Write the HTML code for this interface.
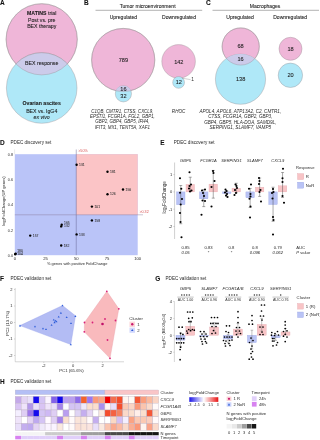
<!DOCTYPE html>
<html><head><meta charset="utf-8"><style>
html,body{margin:0;padding:0;background:#fff;width:320px;height:440px;overflow:hidden}
svg{display:block;font-family:"Liberation Sans", sans-serif}

svg{will-change:transform}
</style></head><body>
<svg width="320" height="440" viewBox="0 0 320 440">
<text x="0" y="4.78" font-size="6.5" text-anchor="start" font-weight="bold" font-style="normal" fill="#111" stroke="#111" stroke-width="0.08" >A</text>
<circle cx="41.7" cy="39.3" r="35.6" fill="#efb6d8" stroke="#9a8f95" stroke-width="0.4"/>
<circle cx="41.7" cy="88" r="35.3" fill="#afe8f8" stroke="#9a8f95" stroke-width="0.4"/>
<clipPath id="clipA"><circle cx="41.7" cy="39.3" r="35.6"/></clipPath>
<circle cx="41.7" cy="88" r="35.3" fill="#cccbea" stroke="#9a8f95" stroke-width="0.4" clip-path="url(#clipA)"/>
<circle cx="41.7" cy="39.3" r="35.6" fill="none" stroke="#9a8f95" stroke-width="0.4"/>
<text x="41.7" y="14.62" font-size="5.2" text-anchor="middle" font-weight="normal" font-style="normal" fill="#151515" stroke="#2a2a2a" stroke-width="0.08" ><tspan font-weight="bold">MATINS</tspan> trial</text>
<text x="41.7" y="22.22" font-size="5.2" text-anchor="middle" font-weight="normal" font-style="normal" fill="#151515" stroke="#2a2a2a" stroke-width="0.08" >Post vs. pre</text>
<text x="41.7" y="28.22" font-size="5.2" text-anchor="middle" font-weight="normal" font-style="normal" fill="#151515" stroke="#2a2a2a" stroke-width="0.08" >BEX therapy</text>
<text x="41.7" y="64.72" font-size="5.2" text-anchor="middle" font-weight="normal" font-style="normal" fill="#151515" stroke="#2a2a2a" stroke-width="0.08" >BEX response</text>
<text x="41.7" y="104.62" font-size="5.2" text-anchor="middle" font-weight="bold" font-style="normal" fill="#151515" stroke="#2a2a2a" stroke-width="0.08" >Ovarian ascites</text>
<text x="41.7" y="112.62" font-size="5.2" text-anchor="middle" font-weight="normal" font-style="normal" fill="#151515" stroke="#2a2a2a" stroke-width="0.08" >BEX vs. IgG4</text>
<text x="41.7" y="118.62" font-size="5.2" text-anchor="middle" font-weight="normal" font-style="italic" fill="#151515" stroke="#2a2a2a" stroke-width="0.08" >ex vivo</text>
<text x="84" y="4.78" font-size="6.5" text-anchor="start" font-weight="bold" font-style="normal" fill="#111" stroke="#111" stroke-width="0.08" >B</text>
<line x1="95.5" y1="10.3" x2="202.2" y2="10.3" stroke="#555" stroke-width="0.45"/>
<text x="147.6" y="7.87" font-size="5.05" text-anchor="middle" font-weight="normal" font-style="normal" fill="#151515" stroke="#2a2a2a" stroke-width="0.08" >Tumor microenvironment</text>
<text x="123.4" y="19.07" font-size="5.05" text-anchor="middle" font-weight="normal" font-style="normal" fill="#151515" stroke="#2a2a2a" stroke-width="0.08" >Upregulated</text>
<text x="179" y="19.07" font-size="5.05" text-anchor="middle" font-weight="normal" font-style="normal" fill="#151515" stroke="#2a2a2a" stroke-width="0.08" >Downregulated</text>
<circle cx="123.2" cy="60" r="31.6" fill="#efb6d8" stroke="#9a8f95" stroke-width="0.4"/>
<clipPath id="clipB"><circle cx="123.2" cy="60" r="31.6"/></clipPath>
<circle cx="123.4" cy="93.8" r="8.1" fill="#afe8f8" stroke="#9a8f95" stroke-width="0.4"/>
<circle cx="123.4" cy="93.8" r="8.1" fill="#cccbea" clip-path="url(#clipB)"/>
<circle cx="123.2" cy="60" r="31.6" fill="none" stroke="#9a8f95" stroke-width="0.4"/>
<text x="123.4" y="62.26" font-size="5.6" text-anchor="middle" font-weight="normal" font-style="normal" fill="#151515" stroke="#2a2a2a" stroke-width="0.08" >789</text>
<text x="123.4" y="91.16" font-size="5.6" text-anchor="middle" font-weight="normal" font-style="normal" fill="#151515" stroke="#2a2a2a" stroke-width="0.08" >16</text>
<text x="123.4" y="98.16" font-size="5.6" text-anchor="middle" font-weight="normal" font-style="normal" fill="#151515" stroke="#2a2a2a" stroke-width="0.08" >32</text>
<circle cx="178.6" cy="61.4" r="16.8" fill="#efb6d8" stroke="#9a8f95" stroke-width="0.4"/>
<circle cx="178.6" cy="82.4" r="5.9" fill="#afe8f8" stroke="#9a8f95" stroke-width="0.4"/>
<text x="178.8" y="63.76" font-size="5.6" text-anchor="middle" font-weight="normal" font-style="normal" fill="#151515" stroke="#2a2a2a" stroke-width="0.08" >142</text>
<text x="178.8" y="84.36" font-size="5.6" text-anchor="middle" font-weight="normal" font-style="normal" fill="#151515" stroke="#2a2a2a" stroke-width="0.08" >12</text>
<line x1="182" y1="78.2" x2="190.5" y2="79.6" stroke="#777" stroke-width="0.35"/>
<text x="192.7" y="81.38" font-size="4.8" text-anchor="middle" font-weight="normal" font-style="normal" fill="#2a2a2a"  >1</text>
<text x="122.4" y="112.86" font-size="4.45" text-anchor="middle" font-weight="normal" font-style="italic" fill="#2a2a2a"  >C1QB, CMTR1, CTSS, CXCL9,</text>
<text x="122.4" y="118.16" font-size="4.45" text-anchor="middle" font-weight="normal" font-style="italic" fill="#2a2a2a"  >EPSTI1, FCGR1A, FGL2, GBP1,</text>
<text x="122.4" y="123.46" font-size="4.45" text-anchor="middle" font-weight="normal" font-style="italic" fill="#2a2a2a"  >GBP2, GBP4, GBP5, IFI44,</text>
<text x="122.4" y="128.76" font-size="4.45" text-anchor="middle" font-weight="normal" font-style="italic" fill="#2a2a2a"  >IFIT3, MX1, TENT5A, XAF1</text>
<text x="178.6" y="112.91" font-size="4.6" text-anchor="middle" font-weight="normal" font-style="italic" fill="#2a2a2a"  >RHOC</text>
<text x="206" y="4.78" font-size="6.5" text-anchor="start" font-weight="bold" font-style="normal" fill="#111" stroke="#111" stroke-width="0.08" >C</text>
<line x1="212.5" y1="10.3" x2="319" y2="10.3" stroke="#555" stroke-width="0.45"/>
<text x="265.0" y="7.87" font-size="5.05" text-anchor="middle" font-weight="normal" font-style="normal" fill="#151515" stroke="#2a2a2a" stroke-width="0.08" >Macrophages</text>
<text x="240.0" y="19.07" font-size="5.05" text-anchor="middle" font-weight="normal" font-style="normal" fill="#151515" stroke="#2a2a2a" stroke-width="0.08" >Upregulated</text>
<text x="290.2" y="19.07" font-size="5.05" text-anchor="middle" font-weight="normal" font-style="normal" fill="#151515" stroke="#2a2a2a" stroke-width="0.08" >Downregulated</text>
<circle cx="240.7" cy="46.5" r="18.6" fill="#efb6d8" stroke="#9a8f95" stroke-width="0.4"/>
<circle cx="240.5" cy="79.2" r="25.1" fill="#afe8f8" stroke="#9a8f95" stroke-width="0.4"/>
<clipPath id="clipC"><circle cx="240.7" cy="46.5" r="18.6"/></clipPath>
<circle cx="240.5" cy="79.2" r="25.1" fill="#cccbea" clip-path="url(#clipC)"/>
<circle cx="240.7" cy="46.5" r="18.6" fill="none" stroke="#9a8f95" stroke-width="0.4"/>
<text x="240.6" y="47.66" font-size="5.6" text-anchor="middle" font-weight="normal" font-style="normal" fill="#151515" stroke="#2a2a2a" stroke-width="0.08" >68</text>
<text x="240.6" y="61.36" font-size="5.6" text-anchor="middle" font-weight="normal" font-style="normal" fill="#151515" stroke="#2a2a2a" stroke-width="0.08" >16</text>
<text x="240.6" y="81.46" font-size="5.6" text-anchor="middle" font-weight="normal" font-style="normal" fill="#151515" stroke="#2a2a2a" stroke-width="0.08" >138</text>
<circle cx="290.5" cy="48.8" r="11.5" fill="#efb6d8" stroke="#9a8f95" stroke-width="0.4"/>
<circle cx="290.4" cy="75.3" r="12.2" fill="#afe8f8" stroke="#9a8f95" stroke-width="0.4"/>
<text x="290.5" y="50.76" font-size="5.6" text-anchor="middle" font-weight="normal" font-style="normal" fill="#151515" stroke="#2a2a2a" stroke-width="0.08" >18</text>
<text x="290.5" y="77.36" font-size="5.6" text-anchor="middle" font-weight="normal" font-style="normal" fill="#151515" stroke="#2a2a2a" stroke-width="0.08" >20</text>
<text x="240.3" y="112.91" font-size="4.6" text-anchor="middle" font-weight="normal" font-style="italic" fill="#2a2a2a"  >APOL4, APOL6, ATP13A2, C2, CMTR1,</text>
<text x="240.3" y="118.21" font-size="4.6" text-anchor="middle" font-weight="normal" font-style="italic" fill="#2a2a2a"  >CTSS, FCGR1A, GBP2, GBP3,</text>
<text x="240.3" y="123.51" font-size="4.6" text-anchor="middle" font-weight="normal" font-style="italic" fill="#2a2a2a"  >GBP4, GBP5, HLA-DOA, SAMD9L,</text>
<text x="240.3" y="128.81" font-size="4.6" text-anchor="middle" font-weight="normal" font-style="italic" fill="#2a2a2a"  >SERPING1, SLAMF7, VAMP5</text>
<text x="0" y="144.78" font-size="6.5" text-anchor="start" font-weight="bold" font-style="normal" fill="#111" stroke="#111" stroke-width="0.08" >D</text>
<text x="10.5" y="144.41" font-size="4.6" text-anchor="start" font-weight="normal" font-style="normal" fill="#2a2a2a"  >PDEC discovery set</text>
<line x1="14.6" y1="149.4" x2="14.6" y2="154.2" stroke="#ccc" stroke-width="0.4"/>
<rect x="14.8" y="154.2" width="122.89999999999999" height="101.0" fill="#bac4f8"/>
<rect x="76.25" y="154.2" width="61.44999999999999" height="60.599999999999994" fill="#fbc4c6"/>
<line x1="76.25" y1="149.5" x2="76.25" y2="255.2" stroke="#5a5a8a" stroke-width="0.45"/>
<line x1="14.8" y1="214.79999999999998" x2="143" y2="214.79999999999998" stroke="#8a7a9a" stroke-width="0.45"/>
<text x="78.2" y="152.29" font-size="3.7" text-anchor="start" font-weight="normal" font-style="normal" fill="#d85050"  >&gt;50%</text>
<text x="139.4" y="212.59" font-size="3.7" text-anchor="start" font-weight="normal" font-style="normal" fill="#d85050"  >&gt;0.32</text>
<text x="13.0" y="256.80" font-size="3.7" text-anchor="end" font-weight="normal" font-style="normal" fill="#2a2a2a"  >0.0</text>
<text x="13.0" y="231.54" font-size="3.7" text-anchor="end" font-weight="normal" font-style="normal" fill="#2a2a2a"  >0.2</text>
<text x="13.0" y="206.29" font-size="3.7" text-anchor="end" font-weight="normal" font-style="normal" fill="#2a2a2a"  >0.4</text>
<text x="13.0" y="181.04" font-size="3.7" text-anchor="end" font-weight="normal" font-style="normal" fill="#2a2a2a"  >0.6</text>
<text x="13.0" y="155.79" font-size="3.7" text-anchor="end" font-weight="normal" font-style="normal" fill="#2a2a2a"  >0.8</text>
<text x="14.8" y="260.17" font-size="4.2" text-anchor="middle" font-weight="normal" font-style="normal" fill="#2a2a2a"  >0</text>
<text x="45.525000000000006" y="260.17" font-size="4.2" text-anchor="middle" font-weight="normal" font-style="normal" fill="#2a2a2a"  >25</text>
<text x="76.25" y="260.17" font-size="4.2" text-anchor="middle" font-weight="normal" font-style="normal" fill="#2a2a2a"  >50</text>
<text x="106.975" y="260.17" font-size="4.2" text-anchor="middle" font-weight="normal" font-style="normal" fill="#2a2a2a"  >75</text>
<text x="137.70000000000002" y="260.17" font-size="4.2" text-anchor="middle" font-weight="normal" font-style="normal" fill="#2a2a2a"  >100</text>
<text x="77.2" y="265.28" font-size="3.95" text-anchor="middle" font-weight="normal" font-style="normal" fill="#2a2a2a"  >% genes with positive FoldChange</text>
<text transform="translate(3.2,201.2) rotate(-90)" font-size="4.05" text-anchor="middle" y="1.42" fill="#2a2a2a">log<tspan font-size="3" dy="1">2</tspan><tspan dy="-1">FoldChange(UP genes)</tspan></text>
<circle cx="76.6" cy="164.8" r="1.2" fill="#000"/>
<circle cx="107.5" cy="171.8" r="1.2" fill="#000"/>
<circle cx="123.0" cy="189.5" r="1.2" fill="#000"/>
<circle cx="107.5" cy="194.3" r="1.2" fill="#000"/>
<circle cx="91.9" cy="206.6" r="1.2" fill="#000"/>
<circle cx="91.9" cy="220.4" r="1.2" fill="#000"/>
<circle cx="76.6" cy="234.4" r="1.2" fill="#000"/>
<circle cx="61.2" cy="245.5" r="1.2" fill="#000"/>
<circle cx="30.2" cy="235.6" r="1.2" fill="#000"/>
<circle cx="61.7" cy="224.8" r="1.2" fill="#000"/>
<circle cx="61.2" cy="226.4" r="1.2" fill="#000"/>
<circle cx="15.6" cy="253.6" r="1.2" fill="#000"/>
<circle cx="15.2" cy="254.2" r="1.2" fill="#000"/>
<text x="79.1" y="165.99" font-size="3.4" text-anchor="start" font-weight="normal" font-style="normal" fill="#333" stroke="#333" stroke-width="0.05" >131</text>
<text x="110" y="172.99" font-size="3.4" text-anchor="start" font-weight="normal" font-style="normal" fill="#333" stroke="#333" stroke-width="0.05" >181</text>
<text x="125.5" y="190.69" font-size="3.4" text-anchor="start" font-weight="normal" font-style="normal" fill="#333" stroke="#333" stroke-width="0.05" >156</text>
<text x="110" y="195.49" font-size="3.4" text-anchor="start" font-weight="normal" font-style="normal" fill="#333" stroke="#333" stroke-width="0.05" >126</text>
<text x="94.4" y="207.79" font-size="3.4" text-anchor="start" font-weight="normal" font-style="normal" fill="#333" stroke="#333" stroke-width="0.05" >101</text>
<text x="94.4" y="221.59" font-size="3.4" text-anchor="start" font-weight="normal" font-style="normal" fill="#333" stroke="#333" stroke-width="0.05" >158</text>
<text x="79.1" y="235.59" font-size="3.4" text-anchor="start" font-weight="normal" font-style="normal" fill="#333" stroke="#333" stroke-width="0.05" >133</text>
<text x="63.7" y="246.69" font-size="3.4" text-anchor="start" font-weight="normal" font-style="normal" fill="#333" stroke="#333" stroke-width="0.05" >182</text>
<text x="32.8" y="236.79" font-size="3.4" text-anchor="start" font-weight="normal" font-style="normal" fill="#333" stroke="#333" stroke-width="0.05" >157</text>
<text x="64.0" y="224.09" font-size="3.4" text-anchor="start" font-weight="normal" font-style="normal" fill="#333" stroke="#333" stroke-width="0.05" >165</text>
<text x="64.0" y="227.49" font-size="3.4" text-anchor="start" font-weight="normal" font-style="normal" fill="#333" stroke="#333" stroke-width="0.05" >132</text>
<text x="17.2" y="251.99" font-size="3.4" text-anchor="start" font-weight="normal" font-style="normal" fill="#333" stroke="#333" stroke-width="0.05" >180</text>
<text x="17.2" y="255.39" font-size="3.4" text-anchor="start" font-weight="normal" font-style="normal" fill="#333" stroke="#333" stroke-width="0.05" >104</text>
<text x="160.2" y="144.78" font-size="6.5" text-anchor="start" font-weight="bold" font-style="normal" fill="#111" stroke="#111" stroke-width="0.08" >E</text>
<text x="173.8" y="144.41" font-size="4.6" text-anchor="start" font-weight="normal" font-style="normal" fill="#2a2a2a"  >PDEC discovery set</text>
<line x1="174.6" y1="162.5" x2="174.6" y2="239" stroke="#888" stroke-width="0.4"/>
<line x1="173.4" y1="174.6" x2="174.6" y2="174.6" stroke="#888" stroke-width="0.4"/>
<text x="172.2" y="176.00" font-size="4.0" text-anchor="end" font-weight="normal" font-style="normal" fill="#2a2a2a"  >1</text>
<line x1="173.4" y1="191.9" x2="174.6" y2="191.9" stroke="#888" stroke-width="0.4"/>
<text x="172.2" y="193.30" font-size="4.0" text-anchor="end" font-weight="normal" font-style="normal" fill="#2a2a2a"  >0</text>
<line x1="173.4" y1="209.20000000000002" x2="174.6" y2="209.20000000000002" stroke="#888" stroke-width="0.4"/>
<text x="172.2" y="210.60" font-size="4.0" text-anchor="end" font-weight="normal" font-style="normal" fill="#2a2a2a"  >-1</text>
<line x1="173.4" y1="226.5" x2="174.6" y2="226.5" stroke="#888" stroke-width="0.4"/>
<text x="172.2" y="227.90" font-size="4.0" text-anchor="end" font-weight="normal" font-style="normal" fill="#2a2a2a"  >-2</text>
<text transform="translate(164.0,197.3) rotate(-90)" font-size="4.5" text-anchor="middle" y="1.57" fill="#2a2a2a">log<tspan font-size="3" dy="1">2</tspan><tspan dy="-1">FoldChange</tspan></text>
<text x="185.5" y="161.92" font-size="4.05" text-anchor="middle" font-weight="normal" font-style="italic" fill="#2a2a2a"  >GBP5</text>
<rect x="176.5" y="191.9" width="8.5" height="12.801999999999992" fill="#b9c3f5" stroke="#8f9be0" stroke-width="0.3"/>
<rect x="186.0" y="184.461" width="8.5" height="7.438999999999993" fill="#f8c4c6" stroke="#e0a0a6" stroke-width="0.3"/>
<line x1="180.75" y1="185.499" x2="180.75" y2="223.732" stroke="#444" stroke-width="0.45"/>
<line x1="179.25" y1="185.499" x2="182.25" y2="185.499" stroke="#444" stroke-width="0.45"/>
<line x1="179.25" y1="223.732" x2="182.25" y2="223.732" stroke="#444" stroke-width="0.45"/>
<line x1="190.25" y1="177.195" x2="190.25" y2="191.035" stroke="#444" stroke-width="0.45"/>
<line x1="188.75" y1="177.195" x2="191.75" y2="177.195" stroke="#444" stroke-width="0.45"/>
<line x1="188.75" y1="191.035" x2="191.75" y2="191.035" stroke="#444" stroke-width="0.45"/>
<circle cx="180" cy="178.2" r="1.05" fill="#000"/>
<circle cx="181.3" cy="188.7" r="1.05" fill="#000"/>
<circle cx="180" cy="192.7" r="1.05" fill="#000"/>
<circle cx="182" cy="199" r="1.05" fill="#000"/>
<circle cx="180.7" cy="204.5" r="1.05" fill="#000"/>
<circle cx="180" cy="213" r="1.05" fill="#000"/>
<circle cx="180.5" cy="222" r="1.05" fill="#000"/>
<circle cx="181.5" cy="237.3" r="1.05" fill="#000"/>
<circle cx="189.5" cy="172.3" r="1.05" fill="#000"/>
<circle cx="191" cy="184.5" r="1.05" fill="#000"/>
<circle cx="189.5" cy="186" r="1.05" fill="#000"/>
<circle cx="189" cy="188.5" r="1.05" fill="#000"/>
<circle cx="191.5" cy="190.5" r="1.05" fill="#000"/>
<circle cx="190" cy="191.5" r="1.05" fill="#000"/>
<text x="185.5" y="248.67" font-size="4.2" text-anchor="middle" font-weight="normal" font-style="normal" fill="#2a2a2a"  >0.85</text>
<text x="185.5" y="253.87" font-size="4.2" text-anchor="middle" font-weight="normal" font-style="italic" fill="#2a2a2a"  >0.05</text>
<text x="208.5" y="161.92" font-size="4.05" text-anchor="middle" font-weight="normal" font-style="italic" fill="#2a2a2a"  >FCGR1A</text>
<rect x="199.5" y="191.9" width="8.5" height="6.9199999999999875" fill="#b9c3f5" stroke="#8f9be0" stroke-width="0.3"/>
<rect x="209.0" y="184.115" width="8.5" height="7.784999999999997" fill="#f8c4c6" stroke="#e0a0a6" stroke-width="0.3"/>
<line x1="203.75" y1="189.651" x2="203.75" y2="206.60500000000002" stroke="#444" stroke-width="0.45"/>
<line x1="202.25" y1="189.651" x2="205.25" y2="189.651" stroke="#444" stroke-width="0.45"/>
<line x1="202.25" y1="206.60500000000002" x2="205.25" y2="206.60500000000002" stroke="#444" stroke-width="0.45"/>
<line x1="213.25" y1="170.448" x2="213.25" y2="198.12800000000001" stroke="#444" stroke-width="0.45"/>
<line x1="211.75" y1="170.448" x2="214.75" y2="170.448" stroke="#444" stroke-width="0.45"/>
<line x1="211.75" y1="198.12800000000001" x2="214.75" y2="198.12800000000001" stroke="#444" stroke-width="0.45"/>
<circle cx="202" cy="190.5" r="1.05" fill="#000"/>
<circle cx="205" cy="189.5" r="1.05" fill="#000"/>
<circle cx="203" cy="193" r="1.05" fill="#000"/>
<circle cx="204" cy="196" r="1.05" fill="#000"/>
<circle cx="202.5" cy="200.5" r="1.05" fill="#000"/>
<circle cx="205" cy="201" r="1.05" fill="#000"/>
<circle cx="201.5" cy="214.7" r="1.05" fill="#000"/>
<circle cx="213" cy="171" r="1.05" fill="#000"/>
<circle cx="213.5" cy="173" r="1.05" fill="#000"/>
<circle cx="211.5" cy="187" r="1.05" fill="#000"/>
<circle cx="214.5" cy="181" r="1.05" fill="#000"/>
<circle cx="211.5" cy="206.5" r="1.05" fill="#000"/>
<text x="208.5" y="248.67" font-size="4.2" text-anchor="middle" font-weight="normal" font-style="normal" fill="#2a2a2a"  >0.83</text>
<text x="208.5" y="253.87" font-size="4.2" text-anchor="middle" font-weight="normal" font-style="normal" fill="#2a2a2a"  >*</text>
<text x="231.5" y="161.92" font-size="4.05" text-anchor="middle" font-weight="normal" font-style="italic" fill="#2a2a2a"  >SERPING1</text>
<rect x="222.5" y="191.9" width="8.5" height="1.7299999999999898" fill="#b9c3f5" stroke="#8f9be0" stroke-width="0.3"/>
<rect x="232.0" y="188.267" width="8.5" height="3.6330000000000098" fill="#f8c4c6" stroke="#e0a0a6" stroke-width="0.3"/>
<line x1="226.75" y1="191.035" x2="226.75" y2="196.225" stroke="#444" stroke-width="0.45"/>
<line x1="225.25" y1="191.035" x2="228.25" y2="191.035" stroke="#444" stroke-width="0.45"/>
<line x1="225.25" y1="196.225" x2="228.25" y2="196.225" stroke="#444" stroke-width="0.45"/>
<line x1="236.25" y1="183.25" x2="236.25" y2="192.76500000000001" stroke="#444" stroke-width="0.45"/>
<line x1="234.75" y1="183.25" x2="237.75" y2="183.25" stroke="#444" stroke-width="0.45"/>
<line x1="234.75" y1="192.76500000000001" x2="237.75" y2="192.76500000000001" stroke="#444" stroke-width="0.45"/>
<circle cx="225.5" cy="189.5" r="1.05" fill="#000"/>
<circle cx="226.5" cy="191" r="1.05" fill="#000"/>
<circle cx="225" cy="192.5" r="1.05" fill="#000"/>
<circle cx="227" cy="194" r="1.05" fill="#000"/>
<circle cx="226" cy="195.5" r="1.05" fill="#000"/>
<circle cx="227.5" cy="197" r="1.05" fill="#000"/>
<circle cx="235.5" cy="184.5" r="1.05" fill="#000"/>
<circle cx="236.5" cy="186" r="1.05" fill="#000"/>
<circle cx="237" cy="188" r="1.05" fill="#000"/>
<circle cx="235" cy="190" r="1.05" fill="#000"/>
<circle cx="236" cy="193" r="1.05" fill="#000"/>
<circle cx="234.5" cy="195" r="1.05" fill="#000"/>
<text x="231.5" y="248.67" font-size="4.2" text-anchor="middle" font-weight="normal" font-style="normal" fill="#2a2a2a"  >0.8</text>
<text x="231.5" y="253.87" font-size="4.2" text-anchor="middle" font-weight="normal" font-style="normal" fill="#2a2a2a"  >*</text>
<text x="254.9" y="161.92" font-size="4.05" text-anchor="middle" font-weight="normal" font-style="italic" fill="#2a2a2a"  >SLAMF7</text>
<rect x="245.9" y="191.9" width="8.5" height="5.882000000000005" fill="#b9c3f5" stroke="#8f9be0" stroke-width="0.3"/>
<rect x="255.4" y="187.229" width="8.5" height="4.670999999999992" fill="#f8c4c6" stroke="#e0a0a6" stroke-width="0.3"/>
<line x1="250.15" y1="188.44" x2="250.15" y2="207.47" stroke="#444" stroke-width="0.45"/>
<line x1="248.65" y1="188.44" x2="251.65" y2="188.44" stroke="#444" stroke-width="0.45"/>
<line x1="248.65" y1="207.47" x2="251.65" y2="207.47" stroke="#444" stroke-width="0.45"/>
<line x1="259.65" y1="178.06" x2="259.65" y2="196.398" stroke="#444" stroke-width="0.45"/>
<line x1="258.15" y1="178.06" x2="261.15" y2="178.06" stroke="#444" stroke-width="0.45"/>
<line x1="258.15" y1="196.398" x2="261.15" y2="196.398" stroke="#444" stroke-width="0.45"/>
<circle cx="251" cy="184.5" r="1.05" fill="#000"/>
<circle cx="249" cy="188.7" r="1.05" fill="#000"/>
<circle cx="250.5" cy="194" r="1.05" fill="#000"/>
<circle cx="250.5" cy="196.5" r="1.05" fill="#000"/>
<circle cx="249.5" cy="198.7" r="1.05" fill="#000"/>
<circle cx="250.5" cy="206.5" r="1.05" fill="#000"/>
<circle cx="250" cy="217.5" r="1.05" fill="#000"/>
<circle cx="259" cy="178" r="1.05" fill="#000"/>
<circle cx="259.5" cy="181" r="1.05" fill="#000"/>
<circle cx="259" cy="184" r="1.05" fill="#000"/>
<circle cx="260.5" cy="190" r="1.05" fill="#000"/>
<circle cx="259.5" cy="192" r="1.05" fill="#000"/>
<circle cx="261" cy="201.5" r="1.05" fill="#000"/>
<text x="254.9" y="248.67" font-size="4.2" text-anchor="middle" font-weight="normal" font-style="normal" fill="#2a2a2a"  >0.8</text>
<text x="254.9" y="253.87" font-size="4.2" text-anchor="middle" font-weight="normal" font-style="italic" fill="#2a2a2a"  >0.096</text>
<text x="277.8" y="161.92" font-size="4.05" text-anchor="middle" font-weight="normal" font-style="italic" fill="#2a2a2a"  >CXCL9</text>
<rect x="268.8" y="191.9" width="8.5" height="12.62899999999999" fill="#b9c3f5" stroke="#8f9be0" stroke-width="0.3"/>
<rect x="278.3" y="185.845" width="8.5" height="6.055000000000007" fill="#f8c4c6" stroke="#e0a0a6" stroke-width="0.3"/>
<line x1="273.05" y1="187.229" x2="273.05" y2="221.31" stroke="#444" stroke-width="0.45"/>
<line x1="271.55" y1="187.229" x2="274.55" y2="187.229" stroke="#444" stroke-width="0.45"/>
<line x1="271.55" y1="221.31" x2="274.55" y2="221.31" stroke="#444" stroke-width="0.45"/>
<line x1="282.55" y1="172.524" x2="282.55" y2="197.436" stroke="#444" stroke-width="0.45"/>
<line x1="281.05" y1="172.524" x2="284.05" y2="172.524" stroke="#444" stroke-width="0.45"/>
<line x1="281.05" y1="197.436" x2="284.05" y2="197.436" stroke="#444" stroke-width="0.45"/>
<circle cx="273" cy="189" r="1.05" fill="#000"/>
<circle cx="273.5" cy="192" r="1.05" fill="#000"/>
<circle cx="272" cy="193" r="1.05" fill="#000"/>
<circle cx="272.5" cy="198.5" r="1.05" fill="#000"/>
<circle cx="273" cy="217" r="1.05" fill="#000"/>
<circle cx="273.5" cy="220" r="1.05" fill="#000"/>
<circle cx="273" cy="234.5" r="1.05" fill="#000"/>
<circle cx="283" cy="168.7" r="1.05" fill="#000"/>
<circle cx="282.5" cy="178.2" r="1.05" fill="#000"/>
<circle cx="282.5" cy="182" r="1.05" fill="#000"/>
<circle cx="282.5" cy="196" r="1.05" fill="#000"/>
<circle cx="284" cy="202.7" r="1.05" fill="#000"/>
<text x="277.8" y="248.67" font-size="4.2" text-anchor="middle" font-weight="normal" font-style="normal" fill="#2a2a2a"  >0.79</text>
<text x="277.8" y="253.87" font-size="4.2" text-anchor="middle" font-weight="normal" font-style="italic" fill="#2a2a2a"  >0.062</text>
<text x="296.3" y="248.67" font-size="4.2" text-anchor="start" font-weight="normal" font-style="normal" fill="#2a2a2a"  >AUC</text>
<text x="296.3" y="253.87" font-size="4.2" text-anchor="start" font-weight="normal" font-style="normal" fill="#2a2a2a"  ><tspan font-style="italic">P</tspan> value</text>
<text x="296.0" y="169.03" font-size="4.1" text-anchor="start" font-weight="normal" font-style="normal" fill="#2a2a2a"  >Response</text>
<rect x="297.5" y="173.6" width="6.3" height="6" fill="#f8c4c6" stroke="#e0a0a6" stroke-width="0.3"/>
<rect x="297.5" y="182.2" width="6.3" height="6" fill="#b9c3f5" stroke="#8f9be0" stroke-width="0.3"/>
<text x="305.8" y="178.10" font-size="4.3" text-anchor="start" font-weight="normal" font-style="normal" fill="#2a2a2a"  >R</text>
<text x="305.8" y="186.70" font-size="4.3" text-anchor="start" font-weight="normal" font-style="normal" fill="#2a2a2a"  >NoR</text>
<text x="0" y="280.57" font-size="6.5" text-anchor="start" font-weight="bold" font-style="normal" fill="#111" stroke="#111" stroke-width="0.08" >F</text>
<text x="10.5" y="279.91" font-size="4.6" text-anchor="start" font-weight="normal" font-style="normal" fill="#2a2a2a"  >PDEC validation set</text>
<line x1="15.2" y1="288" x2="15.2" y2="361.8" stroke="#999" stroke-width="0.4"/>
<line x1="15.2" y1="361.8" x2="124" y2="361.8" stroke="#999" stroke-width="0.4"/>
<line x1="14.0" y1="289.5" x2="15.2" y2="289.5" stroke="#999" stroke-width="0.4"/>
<text x="12.4" y="290.90" font-size="4.0" text-anchor="end" font-weight="normal" font-style="normal" fill="#2a2a2a"  >2</text>
<line x1="14.0" y1="306.0" x2="15.2" y2="306.0" stroke="#999" stroke-width="0.4"/>
<text x="12.4" y="307.40" font-size="4.0" text-anchor="end" font-weight="normal" font-style="normal" fill="#2a2a2a"  >1</text>
<line x1="14.0" y1="322.5" x2="15.2" y2="322.5" stroke="#999" stroke-width="0.4"/>
<text x="12.4" y="323.90" font-size="4.0" text-anchor="end" font-weight="normal" font-style="normal" fill="#2a2a2a"  >0</text>
<line x1="14.0" y1="339.0" x2="15.2" y2="339.0" stroke="#999" stroke-width="0.4"/>
<text x="12.4" y="340.40" font-size="4.0" text-anchor="end" font-weight="normal" font-style="normal" fill="#2a2a2a"  >-1</text>
<line x1="14.0" y1="355.5" x2="15.2" y2="355.5" stroke="#999" stroke-width="0.4"/>
<text x="12.4" y="356.90" font-size="4.0" text-anchor="end" font-weight="normal" font-style="normal" fill="#2a2a2a"  >-2</text>
<line x1="43.8" y1="361.8" x2="43.8" y2="363" stroke="#999" stroke-width="0.4"/>
<text x="43.8" y="367.00" font-size="4.0" text-anchor="middle" font-weight="normal" font-style="normal" fill="#2a2a2a"  >-2</text>
<line x1="73.0" y1="361.8" x2="73.0" y2="363" stroke="#999" stroke-width="0.4"/>
<text x="73.0" y="367.00" font-size="4.0" text-anchor="middle" font-weight="normal" font-style="normal" fill="#2a2a2a"  >0</text>
<line x1="102.5" y1="361.8" x2="102.5" y2="363" stroke="#999" stroke-width="0.4"/>
<text x="102.5" y="367.00" font-size="4.0" text-anchor="middle" font-weight="normal" font-style="normal" fill="#2a2a2a"  >2</text>
<text x="71.5" y="371.70" font-size="4.3" text-anchor="middle" font-weight="normal" font-style="normal" fill="#2a2a2a"  >PC1 (65.6%)</text>
<text transform="translate(7.1,323.4) rotate(-90)" font-size="4.3" text-anchor="middle" y="1.50" fill="#2a2a2a">PC2 (13.7%)</text>
<polygon points="20,325.6 62.5,305.5 75.5,315.8 70.8,344.5" fill="#b3bcf4" stroke="#9aa4ea" stroke-width="0.4"/>
<polygon points="106.8,291.3 118.8,308.8 110,358.3 84.3,331.8 84.5,322.5" fill="#f9babd" stroke="#e8a0a8" stroke-width="0.4"/>
<polygon points="20.00,324.55 21.05,326.40 18.95,326.40" fill="#2a5ad8"/>
<polygon points="35.00,325.45 36.05,327.30 33.95,327.30" fill="#2a5ad8"/>
<polygon points="43.00,327.45 44.05,329.30 41.95,329.30" fill="#2a5ad8"/>
<polygon points="46.00,328.15 47.05,330.00 44.95,330.00" fill="#2a5ad8"/>
<polygon points="51.60,323.95 52.65,325.80 50.55,325.80" fill="#2a5ad8"/>
<polygon points="53.75,318.65 54.80,320.50 52.70,320.50" fill="#2a5ad8"/>
<polygon points="55.40,319.75 56.45,321.60 54.35,321.60" fill="#2a5ad8"/>
<polygon points="54.50,321.35 55.55,323.20 53.45,323.20" fill="#2a5ad8"/>
<polygon points="56.50,320.45 57.55,322.30 55.45,322.30" fill="#2a5ad8"/>
<polygon points="58.70,315.65 59.75,317.50 57.65,317.50" fill="#2a5ad8"/>
<polygon points="60.90,311.85 61.95,313.70 59.85,313.70" fill="#2a5ad8"/>
<polygon points="62.50,304.45 63.55,306.30 61.45,306.30" fill="#2a5ad8"/>
<polygon points="66.70,316.15 67.75,318.00 65.65,318.00" fill="#2a5ad8"/>
<polygon points="71.00,322.15 72.05,324.00 69.95,324.00" fill="#2a5ad8"/>
<polygon points="75.40,315.15 76.45,317.00 74.35,317.00" fill="#2a5ad8"/>
<polygon points="70.80,343.45 71.85,345.30 69.75,345.30" fill="#2a5ad8"/>
<circle cx="84.5" cy="322.5" r="0.9" fill="#d8207a"/>
<circle cx="92.5" cy="322.5" r="0.9" fill="#d8207a"/>
<circle cx="105" cy="319" r="0.9" fill="#d8207a"/>
<circle cx="115.5" cy="320.5" r="0.9" fill="#d8207a"/>
<circle cx="84.3" cy="331.8" r="0.9" fill="#d8207a"/>
<circle cx="107.5" cy="340" r="0.9" fill="#d8207a"/>
<circle cx="118.8" cy="308.8" r="0.9" fill="#d8207a"/>
<circle cx="106.8" cy="291.3" r="0.9" fill="#d8207a"/>
<circle cx="110" cy="358.3" r="0.9" fill="#d8207a"/>
<circle cx="102.5" cy="324" r="1.3" fill="#c0106a"/>
<text x="129.3" y="319.81" font-size="4.3" text-anchor="start" font-weight="normal" font-style="normal" fill="#2a2a2a"  >Cluster</text>
<rect x="129.5" y="321.6" width="5.5" height="5.4" fill="#fcd6d8"/>
<circle cx="132.25" cy="324.3" r="1.2" fill="#c8186e"/>
<rect x="129.5" y="327.6" width="5.5" height="5.2" fill="#d2d8fc"/>
<polygon points="132.25,328.9 133.5,331.1 131.0,331.1" fill="#2a5ad8"/>
<text x="137.2" y="325.70" font-size="4.3" text-anchor="start" font-weight="normal" font-style="normal" fill="#2a2a2a"  >1</text>
<text x="137.2" y="331.70" font-size="4.3" text-anchor="start" font-weight="normal" font-style="normal" fill="#2a2a2a"  >2</text>
<text x="155.2" y="280.57" font-size="6.5" text-anchor="start" font-weight="bold" font-style="normal" fill="#111" stroke="#111" stroke-width="0.08" >G</text>
<text x="165.5" y="279.91" font-size="4.6" text-anchor="start" font-weight="normal" font-style="normal" fill="#2a2a2a"  >PDEC validation set</text>
<line x1="174.4" y1="301.4" x2="174.4" y2="362" stroke="#999" stroke-width="0.4"/>
<line x1="173.2" y1="301.5" x2="174.4" y2="301.5" stroke="#999" stroke-width="0.4"/>
<text x="172.0" y="302.90" font-size="4.0" text-anchor="end" font-weight="normal" font-style="normal" fill="#2a2a2a"  >4</text>
<line x1="173.2" y1="318.40000000000003" x2="174.4" y2="318.40000000000003" stroke="#999" stroke-width="0.4"/>
<text x="172.0" y="319.80" font-size="4.0" text-anchor="end" font-weight="normal" font-style="normal" fill="#2a2a2a"  >2</text>
<line x1="173.2" y1="335.3" x2="174.4" y2="335.3" stroke="#999" stroke-width="0.4"/>
<text x="172.0" y="336.70" font-size="4.0" text-anchor="end" font-weight="normal" font-style="normal" fill="#2a2a2a"  >0</text>
<line x1="173.2" y1="352.2" x2="174.4" y2="352.2" stroke="#999" stroke-width="0.4"/>
<text x="172.0" y="353.60" font-size="4.0" text-anchor="end" font-weight="normal" font-style="normal" fill="#2a2a2a"  >-2</text>
<text transform="translate(163.5,331) rotate(-90)" font-size="4.1" text-anchor="middle" y="1.43" fill="#2a2a2a">log<tspan font-size="2.9" dy="1">2</tspan><tspan dy="-1">FC (BEX/IgG4)</tspan></text>
<text x="185.5" y="290.07" font-size="4.2" text-anchor="middle" font-weight="normal" font-style="italic" fill="#2a2a2a"  >GBP5</text>
<circle cx="181.75" cy="295.0" r="0.75" fill="#333"/>
<circle cx="184.25" cy="295.0" r="0.75" fill="#333"/>
<circle cx="186.75" cy="295.0" r="0.75" fill="#333"/>
<circle cx="189.25" cy="295.0" r="0.75" fill="#333"/>
<line x1="177.3" y1="297.1" x2="193.7" y2="297.1" stroke="#555" stroke-width="0.35"/>
<text x="185.5" y="301.16" font-size="3.6" text-anchor="middle" font-weight="normal" font-style="normal" fill="#2a2a2a"  >AUC 1.00</text>
<rect x="176.0" y="335.3" width="9" height="4.816500000000019" fill="#b9c3f5" stroke="#8f9be0" stroke-width="0.3"/>
<rect x="185.8" y="326.2585" width="9" height="9.041499999999985" fill="#f8c4c6" stroke="#e0a0a6" stroke-width="0.3"/>
<line x1="180.5" y1="332.765" x2="180.5" y2="346.285" stroke="#777" stroke-width="0.45"/>
<line x1="179.2" y1="332.765" x2="181.8" y2="332.765" stroke="#777" stroke-width="0.45"/>
<line x1="179.2" y1="346.285" x2="181.8" y2="346.285" stroke="#777" stroke-width="0.45"/>
<line x1="190.3" y1="320.935" x2="190.3" y2="331.075" stroke="#777" stroke-width="0.45"/>
<line x1="189.0" y1="320.935" x2="191.60000000000002" y2="320.935" stroke="#777" stroke-width="0.45"/>
<line x1="189.0" y1="331.075" x2="191.60000000000002" y2="331.075" stroke="#777" stroke-width="0.45"/>
<circle cx="179" cy="327.2" r="0.85" fill="#000"/>
<circle cx="182.2" cy="327.2" r="0.85" fill="#000"/>
<circle cx="180.6" cy="333.4" r="0.85" fill="#000"/>
<circle cx="182.9" cy="334.4" r="0.85" fill="#000"/>
<circle cx="176.7" cy="338.6" r="0.85" fill="#000"/>
<circle cx="179" cy="338.6" r="0.85" fill="#000"/>
<circle cx="181.4" cy="338.6" r="0.85" fill="#000"/>
<circle cx="183.7" cy="338.6" r="0.85" fill="#000"/>
<circle cx="176.7" cy="342.8" r="0.85" fill="#000"/>
<circle cx="179" cy="342.8" r="0.85" fill="#000"/>
<circle cx="181.4" cy="342.8" r="0.85" fill="#000"/>
<circle cx="183.7" cy="342.8" r="0.85" fill="#000"/>
<circle cx="180.6" cy="347.2" r="0.85" fill="#000"/>
<circle cx="180.1" cy="349.5" r="0.85" fill="#000"/>
<circle cx="180.1" cy="359.7" r="0.85" fill="#000"/>
<circle cx="187.6" cy="312" r="0.85" fill="#000"/>
<circle cx="190.1" cy="312" r="0.85" fill="#000"/>
<circle cx="192.8" cy="312" r="0.85" fill="#000"/>
<circle cx="188.7" cy="318.3" r="0.85" fill="#000"/>
<circle cx="192.3" cy="317.8" r="0.85" fill="#000"/>
<circle cx="189" cy="321.7" r="0.85" fill="#000"/>
<circle cx="191" cy="321.7" r="0.85" fill="#000"/>
<circle cx="186.8" cy="331" r="0.85" fill="#000"/>
<circle cx="188.7" cy="329.5" r="0.85" fill="#000"/>
<circle cx="190.6" cy="330.6" r="0.85" fill="#000"/>
<circle cx="192.4" cy="329.5" r="0.85" fill="#000"/>
<circle cx="194.3" cy="330.2" r="0.85" fill="#000"/>
<circle cx="187.5" cy="333.2" r="0.85" fill="#000"/>
<text x="209.3" y="290.07" font-size="4.2" text-anchor="middle" font-weight="normal" font-style="italic" fill="#2a2a2a"  >SLAMF7</text>
<circle cx="205.55" cy="295.0" r="0.75" fill="#333"/>
<circle cx="208.05" cy="295.0" r="0.75" fill="#333"/>
<circle cx="210.55" cy="295.0" r="0.75" fill="#333"/>
<circle cx="213.05" cy="295.0" r="0.75" fill="#333"/>
<line x1="201.10000000000002" y1="297.1" x2="217.5" y2="297.1" stroke="#555" stroke-width="0.35"/>
<text x="209.3" y="301.16" font-size="3.6" text-anchor="middle" font-weight="normal" font-style="normal" fill="#2a2a2a"  >AUC 0.96</text>
<rect x="199.8" y="335.3" width="9" height="0.8450000000000273" fill="#b9c3f5" stroke="#8f9be0" stroke-width="0.3"/>
<rect x="209.60000000000002" y="327.019" width="9" height="8.281000000000006" fill="#f8c4c6" stroke="#e0a0a6" stroke-width="0.3"/>
<line x1="204.3" y1="332.765" x2="204.3" y2="339.52500000000003" stroke="#777" stroke-width="0.45"/>
<line x1="203.0" y1="332.765" x2="205.60000000000002" y2="332.765" stroke="#777" stroke-width="0.45"/>
<line x1="203.0" y1="339.52500000000003" x2="205.60000000000002" y2="339.52500000000003" stroke="#777" stroke-width="0.45"/>
<line x1="214.10000000000002" y1="322.625" x2="214.10000000000002" y2="331.075" stroke="#777" stroke-width="0.45"/>
<line x1="212.8" y1="322.625" x2="215.40000000000003" y2="322.625" stroke="#777" stroke-width="0.45"/>
<line x1="212.8" y1="331.075" x2="215.40000000000003" y2="331.075" stroke="#777" stroke-width="0.45"/>
<circle cx="200.5" cy="331.5" r="0.85" fill="#000"/>
<circle cx="204" cy="331.5" r="0.85" fill="#000"/>
<circle cx="202" cy="334" r="0.85" fill="#000"/>
<circle cx="206" cy="334" r="0.85" fill="#000"/>
<circle cx="200.5" cy="336.5" r="0.85" fill="#000"/>
<circle cx="203.5" cy="336.5" r="0.85" fill="#000"/>
<circle cx="207" cy="336.5" r="0.85" fill="#000"/>
<circle cx="201" cy="339" r="0.85" fill="#000"/>
<circle cx="205" cy="339" r="0.85" fill="#000"/>
<circle cx="202" cy="341.5" r="0.85" fill="#000"/>
<circle cx="205.5" cy="341.5" r="0.85" fill="#000"/>
<circle cx="202.5" cy="344" r="0.85" fill="#000"/>
<circle cx="206.5" cy="343" r="0.85" fill="#000"/>
<circle cx="211.5" cy="317.5" r="0.85" fill="#000"/>
<circle cx="214.5" cy="317.5" r="0.85" fill="#000"/>
<circle cx="217.5" cy="317.5" r="0.85" fill="#000"/>
<circle cx="210.8" cy="323.4" r="0.85" fill="#000"/>
<circle cx="213" cy="323.4" r="0.85" fill="#000"/>
<circle cx="216" cy="323.4" r="0.85" fill="#000"/>
<circle cx="218" cy="323.4" r="0.85" fill="#000"/>
<circle cx="212" cy="326.5" r="0.85" fill="#000"/>
<circle cx="216" cy="326.5" r="0.85" fill="#000"/>
<circle cx="213.5" cy="330.5" r="0.85" fill="#000"/>
<circle cx="212" cy="333.5" r="0.85" fill="#000"/>
<circle cx="215.5" cy="333" r="0.85" fill="#000"/>
<text x="233.1" y="290.07" font-size="4.2" text-anchor="middle" font-weight="normal" font-style="italic" fill="#2a2a2a"  >FCGR1A/B</text>
<circle cx="229.35" cy="295.0" r="0.75" fill="#333"/>
<circle cx="231.85" cy="295.0" r="0.75" fill="#333"/>
<circle cx="234.35" cy="295.0" r="0.75" fill="#333"/>
<circle cx="236.85" cy="295.0" r="0.75" fill="#333"/>
<line x1="224.9" y1="297.1" x2="241.29999999999998" y2="297.1" stroke="#555" stroke-width="0.35"/>
<text x="233.1" y="301.16" font-size="3.6" text-anchor="middle" font-weight="normal" font-style="normal" fill="#2a2a2a"  >AUC 0.96</text>
<rect x="223.6" y="335.3" width="9" height="3.7180000000000177" fill="#b9c3f5" stroke="#8f9be0" stroke-width="0.3"/>
<rect x="233.4" y="329.047" width="9" height="6.252999999999986" fill="#f8c4c6" stroke="#e0a0a6" stroke-width="0.3"/>
<line x1="228.1" y1="334.455" x2="228.1" y2="342.90500000000003" stroke="#777" stroke-width="0.45"/>
<line x1="226.79999999999998" y1="334.455" x2="229.4" y2="334.455" stroke="#777" stroke-width="0.45"/>
<line x1="226.79999999999998" y1="342.90500000000003" x2="229.4" y2="342.90500000000003" stroke="#777" stroke-width="0.45"/>
<line x1="237.9" y1="323.47" x2="237.9" y2="333.61" stroke="#777" stroke-width="0.45"/>
<line x1="236.6" y1="323.47" x2="239.20000000000002" y2="323.47" stroke="#777" stroke-width="0.45"/>
<line x1="236.6" y1="333.61" x2="239.20000000000002" y2="333.61" stroke="#777" stroke-width="0.45"/>
<circle cx="226.5" cy="325.8" r="0.85" fill="#000"/>
<circle cx="229.5" cy="325.8" r="0.85" fill="#000"/>
<circle cx="226" cy="331.5" r="0.85" fill="#000"/>
<circle cx="228.5" cy="332.5" r="0.85" fill="#000"/>
<circle cx="224.5" cy="337" r="0.85" fill="#000"/>
<circle cx="227" cy="337" r="0.85" fill="#000"/>
<circle cx="229.5" cy="337" r="0.85" fill="#000"/>
<circle cx="232" cy="337" r="0.85" fill="#000"/>
<circle cx="223.5" cy="340.5" r="0.85" fill="#000"/>
<circle cx="226" cy="341" r="0.85" fill="#000"/>
<circle cx="229.5" cy="340.5" r="0.85" fill="#000"/>
<circle cx="232" cy="340" r="0.85" fill="#000"/>
<circle cx="225" cy="343.5" r="0.85" fill="#000"/>
<circle cx="229" cy="343.5" r="0.85" fill="#000"/>
<circle cx="225.5" cy="346" r="0.85" fill="#000"/>
<circle cx="230" cy="345.5" r="0.85" fill="#000"/>
<circle cx="238" cy="311.7" r="0.85" fill="#000"/>
<circle cx="238" cy="317.5" r="0.85" fill="#000"/>
<circle cx="238" cy="322.5" r="0.85" fill="#000"/>
<circle cx="236.5" cy="327.5" r="0.85" fill="#000"/>
<circle cx="239.5" cy="327.5" r="0.85" fill="#000"/>
<circle cx="236" cy="331" r="0.85" fill="#000"/>
<circle cx="239.5" cy="331" r="0.85" fill="#000"/>
<circle cx="236.5" cy="334.5" r="0.85" fill="#000"/>
<circle cx="240.5" cy="333.5" r="0.85" fill="#000"/>
<circle cx="238" cy="337" r="0.85" fill="#000"/>
<text x="256.9" y="290.07" font-size="4.2" text-anchor="middle" font-weight="normal" font-style="italic" fill="#2a2a2a"  >CXCL9</text>
<circle cx="254.40" cy="295.0" r="0.75" fill="#333"/>
<circle cx="256.90" cy="295.0" r="0.75" fill="#333"/>
<circle cx="259.40" cy="295.0" r="0.75" fill="#333"/>
<line x1="248.7" y1="297.1" x2="265.09999999999997" y2="297.1" stroke="#555" stroke-width="0.35"/>
<text x="256.9" y="301.16" font-size="3.6" text-anchor="middle" font-weight="normal" font-style="normal" fill="#2a2a2a"  >AUC 0.90</text>
<rect x="247.39999999999998" y="335.3" width="9" height="7.266999999999996" fill="#b9c3f5" stroke="#8f9be0" stroke-width="0.3"/>
<rect x="257.2" y="324.3995" width="9" height="10.900500000000022" fill="#f8c4c6" stroke="#e0a0a6" stroke-width="0.3"/>
<line x1="251.89999999999998" y1="330.23" x2="251.89999999999998" y2="348.82" stroke="#777" stroke-width="0.45"/>
<line x1="250.59999999999997" y1="330.23" x2="253.2" y2="330.23" stroke="#777" stroke-width="0.45"/>
<line x1="250.59999999999997" y1="348.82" x2="253.2" y2="348.82" stroke="#777" stroke-width="0.45"/>
<line x1="261.7" y1="318.40000000000003" x2="261.7" y2="331.075" stroke="#777" stroke-width="0.45"/>
<line x1="260.4" y1="318.40000000000003" x2="263.0" y2="318.40000000000003" stroke="#777" stroke-width="0.45"/>
<line x1="260.4" y1="331.075" x2="263.0" y2="331.075" stroke="#777" stroke-width="0.45"/>
<circle cx="252" cy="315.6" r="0.85" fill="#000"/>
<circle cx="252" cy="320.5" r="0.85" fill="#000"/>
<circle cx="249" cy="324.2" r="0.85" fill="#000"/>
<circle cx="252.5" cy="324.2" r="0.85" fill="#000"/>
<circle cx="251" cy="338" r="0.85" fill="#000"/>
<circle cx="253" cy="340.5" r="0.85" fill="#000"/>
<circle cx="249.5" cy="342.5" r="0.85" fill="#000"/>
<circle cx="252" cy="346" r="0.85" fill="#000"/>
<circle cx="251" cy="349" r="0.85" fill="#000"/>
<circle cx="252.5" cy="351.5" r="0.85" fill="#000"/>
<circle cx="251" cy="353.5" r="0.85" fill="#000"/>
<circle cx="251.5" cy="357" r="0.85" fill="#000"/>
<circle cx="249.2" cy="359.2" r="0.85" fill="#000"/>
<circle cx="253" cy="359.2" r="0.85" fill="#000"/>
<circle cx="261.5" cy="305" r="0.85" fill="#000"/>
<circle cx="264.5" cy="305" r="0.85" fill="#000"/>
<circle cx="261.5" cy="311" r="0.85" fill="#000"/>
<circle cx="260.5" cy="316" r="0.85" fill="#000"/>
<circle cx="263.5" cy="316" r="0.85" fill="#000"/>
<circle cx="262" cy="320" r="0.85" fill="#000"/>
<circle cx="260" cy="327" r="0.85" fill="#000"/>
<circle cx="263" cy="327" r="0.85" fill="#000"/>
<circle cx="262" cy="332" r="0.85" fill="#000"/>
<circle cx="260" cy="334.5" r="0.85" fill="#000"/>
<circle cx="263" cy="334.5" r="0.85" fill="#000"/>
<text x="280.7" y="290.07" font-size="4.2" text-anchor="middle" font-weight="normal" font-style="italic" fill="#2a2a2a"  >SERPING1</text>
<circle cx="280.70" cy="295.0" r="0.75" fill="#333"/>
<line x1="272.5" y1="297.1" x2="288.9" y2="297.1" stroke="#555" stroke-width="0.35"/>
<text x="280.7" y="301.16" font-size="3.6" text-anchor="middle" font-weight="normal" font-style="normal" fill="#2a2a2a"  >AUC 0.76</text>
<rect x="271.2" y="335.3" width="9" height="2.450499999999977" fill="#b9c3f5" stroke="#8f9be0" stroke-width="0.3"/>
<rect x="281.0" y="331.92" width="9" height="3.3799999999999955" fill="#f8c4c6" stroke="#e0a0a6" stroke-width="0.3"/>
<line x1="275.7" y1="334.455" x2="275.7" y2="340.37" stroke="#777" stroke-width="0.45"/>
<line x1="274.4" y1="334.455" x2="277.0" y2="334.455" stroke="#777" stroke-width="0.45"/>
<line x1="274.4" y1="340.37" x2="277.0" y2="340.37" stroke="#777" stroke-width="0.45"/>
<line x1="285.5" y1="328.54" x2="285.5" y2="334.455" stroke="#777" stroke-width="0.45"/>
<line x1="284.2" y1="328.54" x2="286.8" y2="328.54" stroke="#777" stroke-width="0.45"/>
<line x1="284.2" y1="334.455" x2="286.8" y2="334.455" stroke="#777" stroke-width="0.45"/>
<circle cx="271.8" cy="332.5" r="0.85" fill="#000"/>
<circle cx="277.5" cy="331.5" r="0.85" fill="#000"/>
<circle cx="275" cy="333.5" r="0.85" fill="#000"/>
<circle cx="271.5" cy="335.2" r="0.85" fill="#000"/>
<circle cx="274.5" cy="335.5" r="0.85" fill="#000"/>
<circle cx="278.5" cy="335" r="0.85" fill="#000"/>
<circle cx="272.5" cy="338.5" r="0.85" fill="#000"/>
<circle cx="274" cy="338.5" r="0.85" fill="#000"/>
<circle cx="272.5" cy="341" r="0.85" fill="#000"/>
<circle cx="274" cy="341" r="0.85" fill="#000"/>
<circle cx="277.5" cy="342.5" r="0.85" fill="#000"/>
<circle cx="273" cy="345.8" r="0.85" fill="#000"/>
<circle cx="276.5" cy="345" r="0.85" fill="#000"/>
<circle cx="285.2" cy="321.7" r="0.85" fill="#000"/>
<circle cx="285.2" cy="325" r="0.85" fill="#000"/>
<circle cx="285.2" cy="328.5" r="0.85" fill="#000"/>
<circle cx="287" cy="330.8" r="0.85" fill="#000"/>
<circle cx="283.5" cy="331.5" r="0.85" fill="#000"/>
<circle cx="285.2" cy="334.3" r="0.85" fill="#000"/>
<circle cx="283.5" cy="336.2" r="0.85" fill="#000"/>
<circle cx="287" cy="337" r="0.85" fill="#000"/>
<circle cx="285.2" cy="341.6" r="0.85" fill="#000"/>
<text x="296.6" y="298.81" font-size="4.3" text-anchor="start" font-weight="normal" font-style="normal" fill="#2a2a2a"  >Cluster</text>
<rect x="297.5" y="303.5" width="6" height="5.6" fill="#f8c4c6" stroke="#e0a0a6" stroke-width="0.3"/>
<rect x="297.5" y="312" width="6" height="5.6" fill="#b9c3f5" stroke="#8f9be0" stroke-width="0.3"/>
<text x="305.8" y="307.81" font-size="4.3" text-anchor="start" font-weight="normal" font-style="normal" fill="#2a2a2a"  >1 (R)</text>
<text x="305.8" y="316.31" font-size="4.3" text-anchor="start" font-weight="normal" font-style="normal" fill="#2a2a2a"  >2 (NoR)</text>
<text x="0" y="383.57" font-size="6.5" text-anchor="start" font-weight="bold" font-style="normal" fill="#111" stroke="#111" stroke-width="0.08" >H</text>
<text x="10.5" y="382.91" font-size="4.6" text-anchor="start" font-weight="normal" font-style="normal" fill="#2a2a2a"  >PDEC validation set</text>
<rect x="15.2" y="390" width="89.7" height="4.6" fill="#b4bff5" stroke="#bcb0c0" stroke-width="0.3"/>
<rect x="104.9" y="390" width="53.82000000000001" height="4.6" fill="#f9c5c7" stroke="#bcb0c0" stroke-width="0.3"/>
<rect x="15.20" y="396.40" width="5.98" height="6.78" fill="rgb(196, 169, 233)" stroke="#bcb0c0" stroke-width="0.35"/>
<rect x="21.18" y="396.40" width="5.98" height="6.78" fill="rgb(228, 212, 244)" stroke="#bcb0c0" stroke-width="0.35"/>
<rect x="27.16" y="396.40" width="5.98" height="6.78" fill="rgb(233, 223, 250)" stroke="#bcb0c0" stroke-width="0.35"/>
<rect x="33.14" y="396.40" width="5.98" height="6.78" fill="rgb(21, 10, 237)" stroke="#bcb0c0" stroke-width="0.35"/>
<rect x="39.12" y="396.40" width="5.98" height="6.78" fill="rgb(212, 196, 244)" stroke="#bcb0c0" stroke-width="0.35"/>
<rect x="45.10" y="396.40" width="5.98" height="6.78" fill="rgb(250, 244, 255)" stroke="#bcb0c0" stroke-width="0.35"/>
<rect x="51.08" y="396.40" width="5.98" height="6.78" fill="rgb(131, 98, 233)" stroke="#bcb0c0" stroke-width="0.35"/>
<rect x="57.06" y="396.40" width="5.98" height="6.78" fill="rgb(17, 7, 237)" stroke="#bcb0c0" stroke-width="0.35"/>
<rect x="63.04" y="396.40" width="5.98" height="6.78" fill="rgb(185, 158, 239)" stroke="#bcb0c0" stroke-width="0.35"/>
<rect x="69.02" y="396.40" width="5.98" height="6.78" fill="rgb(185, 158, 239)" stroke="#bcb0c0" stroke-width="0.35"/>
<rect x="75.00" y="396.40" width="5.98" height="6.78" fill="rgb(142, 109, 233)" stroke="#bcb0c0" stroke-width="0.35"/>
<rect x="80.98" y="396.40" width="5.98" height="6.78" fill="rgb(244, 98, 44)" stroke="#bcb0c0" stroke-width="0.35"/>
<rect x="86.96" y="396.40" width="5.98" height="6.78" fill="rgb(158, 120, 239)" stroke="#bcb0c0" stroke-width="0.35"/>
<rect x="92.94" y="396.40" width="5.98" height="6.78" fill="rgb(250, 152, 120)" stroke="#bcb0c0" stroke-width="0.35"/>
<rect x="98.92" y="396.40" width="5.98" height="6.78" fill="rgb(250, 163, 131)" stroke="#bcb0c0" stroke-width="0.35"/>
<rect x="104.90" y="396.40" width="5.98" height="6.78" fill="rgb(239, 0, 0)" stroke="#bcb0c0" stroke-width="0.35"/>
<rect x="110.88" y="396.40" width="5.98" height="6.78" fill="rgb(244, 109, 77)" stroke="#bcb0c0" stroke-width="0.35"/>
<rect x="116.86" y="396.40" width="5.98" height="6.78" fill="rgb(244, 77, 44)" stroke="#bcb0c0" stroke-width="0.35"/>
<rect x="122.84" y="396.40" width="5.98" height="6.78" fill="rgb(255, 244, 239)" stroke="#bcb0c0" stroke-width="0.35"/>
<rect x="128.82" y="396.40" width="5.98" height="6.78" fill="rgb(255, 250, 244)" stroke="#bcb0c0" stroke-width="0.35"/>
<rect x="134.80" y="396.40" width="5.98" height="6.78" fill="rgb(244, 88, 55)" stroke="#bcb0c0" stroke-width="0.35"/>
<rect x="140.78" y="396.40" width="5.98" height="6.78" fill="rgb(250, 158, 125)" stroke="#bcb0c0" stroke-width="0.35"/>
<rect x="146.76" y="396.40" width="5.98" height="6.78" fill="rgb(250, 185, 158)" stroke="#bcb0c0" stroke-width="0.35"/>
<rect x="152.74" y="396.40" width="5.98" height="6.78" fill="rgb(250, 212, 196)" stroke="#bcb0c0" stroke-width="0.35"/>
<rect x="15.20" y="403.18" width="5.98" height="6.78" fill="rgb(217, 196, 244)" stroke="#bcb0c0" stroke-width="0.35"/>
<rect x="21.18" y="403.18" width="5.98" height="6.78" fill="rgb(239, 228, 250)" stroke="#bcb0c0" stroke-width="0.35"/>
<rect x="27.16" y="403.18" width="5.98" height="6.78" fill="rgb(179, 152, 233)" stroke="#bcb0c0" stroke-width="0.35"/>
<rect x="33.14" y="403.18" width="5.98" height="6.78" fill="rgb(233, 223, 250)" stroke="#bcb0c0" stroke-width="0.35"/>
<rect x="39.12" y="403.18" width="5.98" height="6.78" fill="rgb(217, 196, 244)" stroke="#bcb0c0" stroke-width="0.35"/>
<rect x="45.10" y="403.18" width="5.98" height="6.78" fill="rgb(239, 228, 250)" stroke="#bcb0c0" stroke-width="0.35"/>
<rect x="51.08" y="403.18" width="5.98" height="6.78" fill="rgb(233, 223, 250)" stroke="#bcb0c0" stroke-width="0.35"/>
<rect x="57.06" y="403.18" width="5.98" height="6.78" fill="rgb(163, 131, 233)" stroke="#bcb0c0" stroke-width="0.35"/>
<rect x="63.04" y="403.18" width="5.98" height="6.78" fill="rgb(250, 250, 255)" stroke="#bcb0c0" stroke-width="0.35"/>
<rect x="69.02" y="403.18" width="5.98" height="6.78" fill="rgb(212, 196, 244)" stroke="#bcb0c0" stroke-width="0.35"/>
<rect x="75.00" y="403.18" width="5.98" height="6.78" fill="rgb(212, 196, 244)" stroke="#bcb0c0" stroke-width="0.35"/>
<rect x="80.98" y="403.18" width="5.98" height="6.78" fill="rgb(239, 233, 250)" stroke="#bcb0c0" stroke-width="0.35"/>
<rect x="86.96" y="403.18" width="5.98" height="6.78" fill="rgb(250, 223, 206)" stroke="#bcb0c0" stroke-width="0.35"/>
<rect x="92.94" y="403.18" width="5.98" height="6.78" fill="rgb(250, 223, 206)" stroke="#bcb0c0" stroke-width="0.35"/>
<rect x="98.92" y="403.18" width="5.98" height="6.78" fill="rgb(169, 142, 239)" stroke="#bcb0c0" stroke-width="0.35"/>
<rect x="104.90" y="403.18" width="5.98" height="6.78" fill="rgb(255, 244, 244)" stroke="#bcb0c0" stroke-width="0.35"/>
<rect x="110.88" y="403.18" width="5.98" height="6.78" fill="rgb(233, 223, 250)" stroke="#bcb0c0" stroke-width="0.35"/>
<rect x="116.86" y="403.18" width="5.98" height="6.78" fill="rgb(244, 77, 44)" stroke="#bcb0c0" stroke-width="0.35"/>
<rect x="122.84" y="403.18" width="5.98" height="6.78" fill="rgb(250, 201, 179)" stroke="#bcb0c0" stroke-width="0.35"/>
<rect x="128.82" y="403.18" width="5.98" height="6.78" fill="rgb(250, 212, 196)" stroke="#bcb0c0" stroke-width="0.35"/>
<rect x="134.80" y="403.18" width="5.98" height="6.78" fill="rgb(250, 152, 120)" stroke="#bcb0c0" stroke-width="0.35"/>
<rect x="140.78" y="403.18" width="5.98" height="6.78" fill="rgb(250, 196, 174)" stroke="#bcb0c0" stroke-width="0.35"/>
<rect x="146.76" y="403.18" width="5.98" height="6.78" fill="rgb(250, 217, 201)" stroke="#bcb0c0" stroke-width="0.35"/>
<rect x="152.74" y="403.18" width="5.98" height="6.78" fill="rgb(255, 250, 250)" stroke="#bcb0c0" stroke-width="0.35"/>
<rect x="15.20" y="409.96" width="5.98" height="6.78" fill="rgb(244, 239, 255)" stroke="#bcb0c0" stroke-width="0.35"/>
<rect x="21.18" y="409.96" width="5.98" height="6.78" fill="rgb(223, 206, 244)" stroke="#bcb0c0" stroke-width="0.35"/>
<rect x="27.16" y="409.96" width="5.98" height="6.78" fill="rgb(158, 120, 233)" stroke="#bcb0c0" stroke-width="0.35"/>
<rect x="33.14" y="409.96" width="5.98" height="6.78" fill="rgb(21, 10, 237)" stroke="#bcb0c0" stroke-width="0.35"/>
<rect x="39.12" y="409.96" width="5.98" height="6.78" fill="rgb(212, 196, 244)" stroke="#bcb0c0" stroke-width="0.35"/>
<rect x="45.10" y="409.96" width="5.98" height="6.78" fill="rgb(206, 185, 244)" stroke="#bcb0c0" stroke-width="0.35"/>
<rect x="51.08" y="409.96" width="5.98" height="6.78" fill="rgb(223, 206, 244)" stroke="#bcb0c0" stroke-width="0.35"/>
<rect x="57.06" y="409.96" width="5.98" height="6.78" fill="rgb(255, 255, 255)" stroke="#bcb0c0" stroke-width="0.35"/>
<rect x="63.04" y="409.96" width="5.98" height="6.78" fill="rgb(185, 158, 239)" stroke="#bcb0c0" stroke-width="0.35"/>
<rect x="69.02" y="409.96" width="5.98" height="6.78" fill="rgb(255, 255, 255)" stroke="#bcb0c0" stroke-width="0.35"/>
<rect x="75.00" y="409.96" width="5.98" height="6.78" fill="rgb(223, 212, 244)" stroke="#bcb0c0" stroke-width="0.35"/>
<rect x="80.98" y="409.96" width="5.98" height="6.78" fill="rgb(196, 174, 239)" stroke="#bcb0c0" stroke-width="0.35"/>
<rect x="86.96" y="409.96" width="5.98" height="6.78" fill="rgb(228, 212, 244)" stroke="#bcb0c0" stroke-width="0.35"/>
<rect x="92.94" y="409.96" width="5.98" height="6.78" fill="rgb(255, 255, 255)" stroke="#bcb0c0" stroke-width="0.35"/>
<rect x="98.92" y="409.96" width="5.98" height="6.78" fill="rgb(250, 233, 223)" stroke="#bcb0c0" stroke-width="0.35"/>
<rect x="104.90" y="409.96" width="5.98" height="6.78" fill="rgb(244, 77, 44)" stroke="#bcb0c0" stroke-width="0.35"/>
<rect x="110.88" y="409.96" width="5.98" height="6.78" fill="rgb(244, 98, 66)" stroke="#bcb0c0" stroke-width="0.35"/>
<rect x="116.86" y="409.96" width="5.98" height="6.78" fill="rgb(244, 131, 98)" stroke="#bcb0c0" stroke-width="0.35"/>
<rect x="122.84" y="409.96" width="5.98" height="6.78" fill="rgb(250, 217, 201)" stroke="#bcb0c0" stroke-width="0.35"/>
<rect x="128.82" y="409.96" width="5.98" height="6.78" fill="rgb(250, 223, 206)" stroke="#bcb0c0" stroke-width="0.35"/>
<rect x="134.80" y="409.96" width="5.98" height="6.78" fill="rgb(255, 239, 233)" stroke="#bcb0c0" stroke-width="0.35"/>
<rect x="140.78" y="409.96" width="5.98" height="6.78" fill="rgb(250, 223, 206)" stroke="#bcb0c0" stroke-width="0.35"/>
<rect x="146.76" y="409.96" width="5.98" height="6.78" fill="rgb(244, 88, 55)" stroke="#bcb0c0" stroke-width="0.35"/>
<rect x="152.74" y="409.96" width="5.98" height="6.78" fill="rgb(250, 223, 206)" stroke="#bcb0c0" stroke-width="0.35"/>
<rect x="15.20" y="416.74" width="5.98" height="6.78" fill="rgb(239, 228, 250)" stroke="#bcb0c0" stroke-width="0.35"/>
<rect x="21.18" y="416.74" width="5.98" height="6.78" fill="rgb(255, 255, 255)" stroke="#bcb0c0" stroke-width="0.35"/>
<rect x="27.16" y="416.74" width="5.98" height="6.78" fill="rgb(228, 212, 244)" stroke="#bcb0c0" stroke-width="0.35"/>
<rect x="33.14" y="416.74" width="5.98" height="6.78" fill="rgb(190, 169, 239)" stroke="#bcb0c0" stroke-width="0.35"/>
<rect x="39.12" y="416.74" width="5.98" height="6.78" fill="rgb(212, 196, 244)" stroke="#bcb0c0" stroke-width="0.35"/>
<rect x="45.10" y="416.74" width="5.98" height="6.78" fill="rgb(255, 250, 255)" stroke="#bcb0c0" stroke-width="0.35"/>
<rect x="51.08" y="416.74" width="5.98" height="6.78" fill="rgb(223, 206, 244)" stroke="#bcb0c0" stroke-width="0.35"/>
<rect x="57.06" y="416.74" width="5.98" height="6.78" fill="rgb(163, 131, 233)" stroke="#bcb0c0" stroke-width="0.35"/>
<rect x="63.04" y="416.74" width="5.98" height="6.78" fill="rgb(250, 223, 206)" stroke="#bcb0c0" stroke-width="0.35"/>
<rect x="69.02" y="416.74" width="5.98" height="6.78" fill="rgb(255, 250, 250)" stroke="#bcb0c0" stroke-width="0.35"/>
<rect x="75.00" y="416.74" width="5.98" height="6.78" fill="rgb(250, 228, 217)" stroke="#bcb0c0" stroke-width="0.35"/>
<rect x="80.98" y="416.74" width="5.98" height="6.78" fill="rgb(250, 233, 223)" stroke="#bcb0c0" stroke-width="0.35"/>
<rect x="86.96" y="416.74" width="5.98" height="6.78" fill="rgb(255, 250, 250)" stroke="#bcb0c0" stroke-width="0.35"/>
<rect x="92.94" y="416.74" width="5.98" height="6.78" fill="rgb(196, 174, 239)" stroke="#bcb0c0" stroke-width="0.35"/>
<rect x="98.92" y="416.74" width="5.98" height="6.78" fill="rgb(255, 255, 255)" stroke="#bcb0c0" stroke-width="0.35"/>
<rect x="104.90" y="416.74" width="5.98" height="6.78" fill="rgb(255, 255, 255)" stroke="#bcb0c0" stroke-width="0.35"/>
<rect x="110.88" y="416.74" width="5.98" height="6.78" fill="rgb(250, 217, 196)" stroke="#bcb0c0" stroke-width="0.35"/>
<rect x="116.86" y="416.74" width="5.98" height="6.78" fill="rgb(212, 190, 244)" stroke="#bcb0c0" stroke-width="0.35"/>
<rect x="122.84" y="416.74" width="5.98" height="6.78" fill="rgb(244, 239, 255)" stroke="#bcb0c0" stroke-width="0.35"/>
<rect x="128.82" y="416.74" width="5.98" height="6.78" fill="rgb(250, 163, 131)" stroke="#bcb0c0" stroke-width="0.35"/>
<rect x="134.80" y="416.74" width="5.98" height="6.78" fill="rgb(250, 201, 179)" stroke="#bcb0c0" stroke-width="0.35"/>
<rect x="140.78" y="416.74" width="5.98" height="6.78" fill="rgb(250, 201, 179)" stroke="#bcb0c0" stroke-width="0.35"/>
<rect x="146.76" y="416.74" width="5.98" height="6.78" fill="rgb(250, 206, 190)" stroke="#bcb0c0" stroke-width="0.35"/>
<rect x="152.74" y="416.74" width="5.98" height="6.78" fill="rgb(255, 250, 250)" stroke="#bcb0c0" stroke-width="0.35"/>
<rect x="15.20" y="423.52" width="5.98" height="6.78" fill="rgb(233, 223, 250)" stroke="#bcb0c0" stroke-width="0.35"/>
<rect x="21.18" y="423.52" width="5.98" height="6.78" fill="rgb(196, 174, 239)" stroke="#bcb0c0" stroke-width="0.35"/>
<rect x="27.16" y="423.52" width="5.98" height="6.78" fill="rgb(190, 169, 239)" stroke="#bcb0c0" stroke-width="0.35"/>
<rect x="33.14" y="423.52" width="5.98" height="6.78" fill="rgb(228, 212, 244)" stroke="#bcb0c0" stroke-width="0.35"/>
<rect x="39.12" y="423.52" width="5.98" height="6.78" fill="rgb(239, 233, 250)" stroke="#bcb0c0" stroke-width="0.35"/>
<rect x="45.10" y="423.52" width="5.98" height="6.78" fill="rgb(250, 244, 255)" stroke="#bcb0c0" stroke-width="0.35"/>
<rect x="51.08" y="423.52" width="5.98" height="6.78" fill="rgb(250, 244, 255)" stroke="#bcb0c0" stroke-width="0.35"/>
<rect x="57.06" y="423.52" width="5.98" height="6.78" fill="rgb(250, 233, 223)" stroke="#bcb0c0" stroke-width="0.35"/>
<rect x="63.04" y="423.52" width="5.98" height="6.78" fill="rgb(255, 255, 255)" stroke="#bcb0c0" stroke-width="0.35"/>
<rect x="69.02" y="423.52" width="5.98" height="6.78" fill="rgb(255, 250, 250)" stroke="#bcb0c0" stroke-width="0.35"/>
<rect x="75.00" y="423.52" width="5.98" height="6.78" fill="rgb(250, 223, 212)" stroke="#bcb0c0" stroke-width="0.35"/>
<rect x="80.98" y="423.52" width="5.98" height="6.78" fill="rgb(250, 228, 217)" stroke="#bcb0c0" stroke-width="0.35"/>
<rect x="86.96" y="423.52" width="5.98" height="6.78" fill="rgb(250, 228, 223)" stroke="#bcb0c0" stroke-width="0.35"/>
<rect x="92.94" y="423.52" width="5.98" height="6.78" fill="rgb(233, 223, 250)" stroke="#bcb0c0" stroke-width="0.35"/>
<rect x="98.92" y="423.52" width="5.98" height="6.78" fill="rgb(250, 233, 223)" stroke="#bcb0c0" stroke-width="0.35"/>
<rect x="104.90" y="423.52" width="5.98" height="6.78" fill="rgb(250, 196, 174)" stroke="#bcb0c0" stroke-width="0.35"/>
<rect x="110.88" y="423.52" width="5.98" height="6.78" fill="rgb(250, 169, 142)" stroke="#bcb0c0" stroke-width="0.35"/>
<rect x="116.86" y="423.52" width="5.98" height="6.78" fill="rgb(250, 185, 163)" stroke="#bcb0c0" stroke-width="0.35"/>
<rect x="122.84" y="423.52" width="5.98" height="6.78" fill="rgb(250, 217, 201)" stroke="#bcb0c0" stroke-width="0.35"/>
<rect x="128.82" y="423.52" width="5.98" height="6.78" fill="rgb(250, 174, 147)" stroke="#bcb0c0" stroke-width="0.35"/>
<rect x="134.80" y="423.52" width="5.98" height="6.78" fill="rgb(250, 152, 120)" stroke="#bcb0c0" stroke-width="0.35"/>
<rect x="140.78" y="423.52" width="5.98" height="6.78" fill="rgb(255, 244, 239)" stroke="#bcb0c0" stroke-width="0.35"/>
<rect x="146.76" y="423.52" width="5.98" height="6.78" fill="rgb(250, 163, 136)" stroke="#bcb0c0" stroke-width="0.35"/>
<rect x="152.74" y="423.52" width="5.98" height="6.78" fill="rgb(250, 217, 201)" stroke="#bcb0c0" stroke-width="0.35"/>
<rect x="15.20" y="432.1" width="5.98" height="3.2" fill="rgb(244, 244, 244)"/>
<rect x="21.18" y="432.1" width="5.98" height="3.2" fill="rgb(244, 244, 244)"/>
<rect x="27.16" y="432.1" width="5.98" height="3.2" fill="rgb(244, 244, 244)"/>
<rect x="33.14" y="432.1" width="5.98" height="3.2" fill="rgb(244, 244, 244)"/>
<rect x="39.12" y="432.1" width="5.98" height="3.2" fill="rgb(244, 244, 244)"/>
<rect x="45.10" y="432.1" width="5.98" height="3.2" fill="rgb(203, 203, 203)"/>
<rect x="51.08" y="432.1" width="5.98" height="3.2" fill="rgb(203, 203, 203)"/>
<rect x="57.06" y="432.1" width="5.98" height="3.2" fill="rgb(203, 203, 203)"/>
<rect x="63.04" y="432.1" width="5.98" height="3.2" fill="rgb(203, 203, 203)"/>
<rect x="69.02" y="432.1" width="5.98" height="3.2" fill="rgb(203, 203, 203)"/>
<rect x="75.00" y="432.1" width="5.98" height="3.2" fill="rgb(203, 203, 203)"/>
<rect x="80.98" y="432.1" width="5.98" height="3.2" fill="rgb(158, 158, 158)"/>
<rect x="86.96" y="432.1" width="5.98" height="3.2" fill="rgb(158, 158, 158)"/>
<rect x="92.94" y="432.1" width="5.98" height="3.2" fill="rgb(158, 158, 158)"/>
<rect x="98.92" y="432.1" width="5.98" height="3.2" fill="rgb(158, 158, 158)"/>
<rect x="104.90" y="432.1" width="5.98" height="3.2" fill="rgb(75, 75, 75)"/>
<rect x="110.88" y="432.1" width="5.98" height="3.2" fill="rgb(75, 75, 75)"/>
<rect x="116.86" y="432.1" width="5.98" height="3.2" fill="rgb(75, 75, 75)"/>
<rect x="122.84" y="432.1" width="5.98" height="3.2" fill="rgb(75, 75, 75)"/>
<rect x="128.82" y="432.1" width="5.98" height="3.2" fill="rgb(22, 22, 22)"/>
<rect x="134.80" y="432.1" width="5.98" height="3.2" fill="rgb(22, 22, 22)"/>
<rect x="140.78" y="432.1" width="5.98" height="3.2" fill="rgb(22, 22, 22)"/>
<rect x="146.76" y="432.1" width="5.98" height="3.2" fill="rgb(22, 22, 22)"/>
<rect x="152.74" y="432.1" width="5.98" height="3.2" fill="rgb(22, 22, 22)"/>
<rect x="15.20" y="435.8" width="5.98" height="3.5" fill="rgb(215, 130, 240)"/>
<rect x="21.18" y="435.8" width="5.98" height="3.5" fill="rgb(225, 208, 250)"/>
<rect x="27.16" y="435.8" width="5.98" height="3.5" fill="rgb(225, 208, 250)"/>
<rect x="33.14" y="435.8" width="5.98" height="3.5" fill="rgb(225, 208, 250)"/>
<rect x="39.12" y="435.8" width="5.98" height="3.5" fill="rgb(225, 208, 250)"/>
<rect x="45.10" y="435.8" width="5.98" height="3.5" fill="rgb(225, 208, 250)"/>
<rect x="51.08" y="435.8" width="5.98" height="3.5" fill="rgb(225, 208, 250)"/>
<rect x="57.06" y="435.8" width="5.98" height="3.5" fill="rgb(215, 130, 240)"/>
<rect x="63.04" y="435.8" width="5.98" height="3.5" fill="rgb(225, 208, 250)"/>
<rect x="69.02" y="435.8" width="5.98" height="3.5" fill="rgb(225, 208, 250)"/>
<rect x="75.00" y="435.8" width="5.98" height="3.5" fill="rgb(225, 208, 250)"/>
<rect x="80.98" y="435.8" width="5.98" height="3.5" fill="rgb(215, 130, 240)"/>
<rect x="86.96" y="435.8" width="5.98" height="3.5" fill="rgb(225, 208, 250)"/>
<rect x="92.94" y="435.8" width="5.98" height="3.5" fill="rgb(225, 208, 250)"/>
<rect x="98.92" y="435.8" width="5.98" height="3.5" fill="rgb(225, 208, 250)"/>
<rect x="104.90" y="435.8" width="5.98" height="3.5" fill="rgb(215, 130, 240)"/>
<rect x="110.88" y="435.8" width="5.98" height="3.5" fill="rgb(225, 208, 250)"/>
<rect x="116.86" y="435.8" width="5.98" height="3.5" fill="rgb(225, 208, 250)"/>
<rect x="122.84" y="435.8" width="5.98" height="3.5" fill="rgb(225, 208, 250)"/>
<rect x="128.82" y="435.8" width="5.98" height="3.5" fill="rgb(215, 130, 240)"/>
<rect x="134.80" y="435.8" width="5.98" height="3.5" fill="rgb(225, 208, 250)"/>
<rect x="140.78" y="435.8" width="5.98" height="3.5" fill="rgb(225, 208, 250)"/>
<rect x="146.76" y="435.8" width="5.98" height="3.5" fill="rgb(225, 208, 250)"/>
<rect x="152.74" y="435.8" width="5.98" height="3.5" fill="rgb(225, 208, 250)"/>
<text x="160.6" y="394.04" font-size="4.1" text-anchor="start" font-weight="normal" font-style="normal" fill="#2a2a2a"  >Cluster</text>
<text x="160.6" y="401.04" font-size="4.1" text-anchor="start" font-weight="normal" font-style="italic" fill="#2a2a2a"  >CXCL9</text>
<text x="160.6" y="407.83" font-size="4.1" text-anchor="start" font-weight="normal" font-style="italic" fill="#2a2a2a"  >FCGR1A/B</text>
<text x="160.6" y="414.54" font-size="4.1" text-anchor="start" font-weight="normal" font-style="italic" fill="#2a2a2a"  >GBP5</text>
<text x="160.6" y="421.33" font-size="4.1" text-anchor="start" font-weight="normal" font-style="italic" fill="#2a2a2a"  >SERPING1</text>
<text x="160.6" y="428.04" font-size="4.1" text-anchor="start" font-weight="normal" font-style="italic" fill="#2a2a2a"  >SLAMF7</text>
<text x="160.6" y="434.83" font-size="4.1" text-anchor="start" font-weight="normal" font-style="normal" fill="#2a2a2a"  >N genes</text>
<text x="160.6" y="438.83" font-size="4.1" text-anchor="start" font-weight="normal" font-style="normal" fill="#2a2a2a"  >Timepoint</text>
<text x="189.1" y="394.37" font-size="4.2" text-anchor="start" font-weight="normal" font-style="normal" fill="#2a2a2a"  >log<tspan font-size="2.9" dy="1">2</tspan><tspan dy="-1">FoldChange</tspan></text>
<defs><linearGradient id="lfc" x1="0" x2="1" y1="0" y2="0"><stop offset="0" stop-color="#1a14e6"/><stop offset="0.5" stop-color="#ffffff"/><stop offset="1" stop-color="#e81414"/></linearGradient></defs>
<rect x="189.3" y="397.2" width="29" height="4.7" fill="url(#lfc)"/>
<text x="189.8" y="405.59" font-size="3.4" text-anchor="middle" font-weight="normal" font-style="normal" fill="#2a2a2a"  >-3</text>
<text x="196.6" y="405.59" font-size="3.4" text-anchor="middle" font-weight="normal" font-style="normal" fill="#2a2a2a"  >-1.5</text>
<text x="203.7" y="405.59" font-size="3.4" text-anchor="middle" font-weight="normal" font-style="normal" fill="#2a2a2a"  >0</text>
<text x="210.7" y="405.59" font-size="3.4" text-anchor="middle" font-weight="normal" font-style="normal" fill="#2a2a2a"  >1.5</text>
<text x="217.6" y="405.59" font-size="3.4" text-anchor="middle" font-weight="normal" font-style="normal" fill="#2a2a2a"  >3</text>
<text x="226.5" y="394.37" font-size="4.2" text-anchor="start" font-weight="normal" font-style="normal" fill="#2a2a2a"  >Cluster</text>
<rect x="226.6" y="396.6" width="4.8" height="4.4" fill="#fbd2d4"/>
<circle cx="229" cy="398.8" r="1.1" fill="#c8186e"/>
<rect x="226.6" y="402.3" width="4.8" height="4.4" fill="#cfd6fb"/>
<polygon points="229,403.3 230.2,405.5 227.8,405.5" fill="#2a5ad8"/>
<text x="233.5" y="400.33" font-size="4.1" text-anchor="start" font-weight="normal" font-style="normal" fill="#2a2a2a"  >1 R</text>
<text x="233.5" y="405.94" font-size="4.1" text-anchor="start" font-weight="normal" font-style="normal" fill="#2a2a2a"  >2 NoR</text>
<text x="251.5" y="394.37" font-size="4.2" text-anchor="start" font-weight="normal" font-style="normal" fill="#2a2a2a"  >Timepoint</text>
<rect x="251.9" y="396.3" width="4.7" height="4.7" fill="rgb(225,208,250)"/>
<rect x="251.9" y="401.9" width="4.7" height="4.7" fill="rgb(215,130,240)"/>
<text x="259" y="400.24" font-size="4.1" text-anchor="start" font-weight="normal" font-style="normal" fill="#2a2a2a"  >24h</text>
<text x="259" y="405.74" font-size="4.1" text-anchor="start" font-weight="normal" font-style="normal" fill="#2a2a2a"  >48h</text>
<text x="226.6" y="415.47" font-size="4.2" text-anchor="start" font-weight="normal" font-style="normal" fill="#2a2a2a"  >N genes with positive</text>
<text x="226.6" y="420.27" font-size="4.2" text-anchor="start" font-weight="normal" font-style="normal" fill="#2a2a2a"  >log<tspan font-size="2.9" dy="1">2</tspan><tspan dy="-1">FoldChange</tspan></text>
<rect x="226.6" y="424" width="4.6" height="4.5" fill="rgb(244, 244, 244)"/>
<text x="229.1" y="433.70" font-size="4.0" text-anchor="middle" font-weight="normal" font-style="normal" fill="#2a2a2a"  >0</text>
<rect x="231.6" y="424" width="4.6" height="4.5" fill="rgb(232, 232, 232)"/>
<text x="234.1" y="433.70" font-size="4.0" text-anchor="middle" font-weight="normal" font-style="normal" fill="#2a2a2a"  >1</text>
<rect x="236.6" y="424" width="4.6" height="4.5" fill="rgb(203, 203, 203)"/>
<text x="239.1" y="433.70" font-size="4.0" text-anchor="middle" font-weight="normal" font-style="normal" fill="#2a2a2a"  >2</text>
<rect x="241.6" y="424" width="4.6" height="4.5" fill="rgb(158, 158, 158)"/>
<text x="244.1" y="433.70" font-size="4.0" text-anchor="middle" font-weight="normal" font-style="normal" fill="#2a2a2a"  >3</text>
<rect x="246.6" y="424" width="4.6" height="4.5" fill="rgb(75, 75, 75)"/>
<text x="249.1" y="433.70" font-size="4.0" text-anchor="middle" font-weight="normal" font-style="normal" fill="#2a2a2a"  >4</text>
<rect x="251.6" y="424" width="4.6" height="4.5" fill="rgb(22, 22, 22)"/>
<text x="254.1" y="433.70" font-size="4.0" text-anchor="middle" font-weight="normal" font-style="normal" fill="#2a2a2a"  >5</text>
</svg></body></html>
